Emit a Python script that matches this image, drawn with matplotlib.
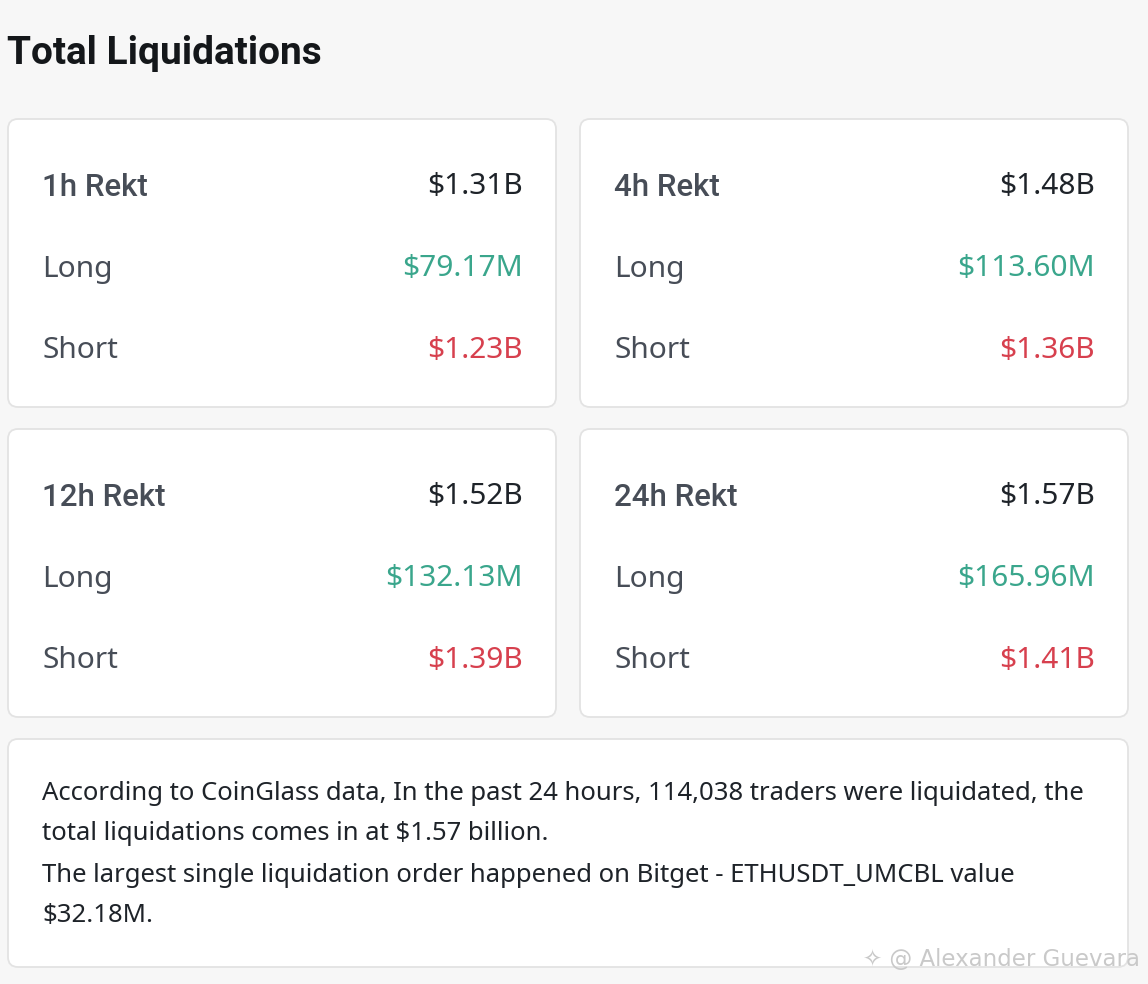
import matplotlib.pyplot as plt
from matplotlib.patches import FancyBboxPatch

periods = ['1h Rekt', '4h Rekt', '12h Rekt', '24h Rekt']
totals = ['$1.31B', '$1.48B', '$1.52B', '$1.57B']
longs = ['$79.17M', '$113.60M', '$132.13M', '$165.96M']
shorts = ['$1.23B', '$1.36B', '$1.39B', '$1.41B']
note_lines = [
    'According to CoinGlass data, In the past 24 hours, 114,038 traders were liquidated, the',
    'total liquidations comes in at $1.57 billion.',
    'The largest single liquidation order happened on Bitget - ETHUSDT_UMCBL value',
    '$32.18M.',
]

bg = '#f7f7f7'
green = '#3aa68c'
red = '#d7404e'
gray = '#474d57'
dark = '#1e2329'
font = 'Noto Sans'

fig = plt.figure(figsize=(11.48, 9.84), dpi=100)
fig.patch.set_facecolor(bg)
ax = fig.add_axes([0, 0, 1, 1])
ax.set_xlim(0, 1148)
ax.set_ylim(984, 0)
ax.axis('off')

def card(x0, y0, w, h):
    p = FancyBboxPatch((x0, y0), w, h, boxstyle='round,pad=0,rounding_size=10',
                       facecolor='white', edgecolor='#e3e3e3', linewidth=1.3)
    ax.add_patch(p)

ax.text(7, 54, 'Total Liquidations', fontsize=28, fontweight='bold',
        family='Roboto', color='#14171a', va='center', ha='left')

pos = [(8, 119), (580, 119), (8, 429), (580, 429)]
w, h = 548, 288
for i, (x0, y0) in enumerate(pos):
    card(x0, y0, w, h)
    lx, rx = x0 + 34, x0 + w - 33
    rows = [(periods[i], totals[i], dark), ('Long', longs[i], green), ('Short', shorts[i], red)]
    for j, (lab, val, col) in enumerate(rows):
        yy = y0 + 68 + j * 82
        if j == 0:
            ax.text(lx, yy, lab, fontsize=22.5, family='Roboto', color=gray, va='center',
                    ha='left', fontweight='medium')
        else:
            ax.text(lx, yy, lab, fontsize=21.5, family=font, color=gray, va='center', ha='left')
        ax.text(rx, yy, val, fontsize=21.5, family=font, color=col, va='center', ha='right')

card(8, 739, 1120, 228)
for k, line in enumerate(note_lines):
    ax.text(42, 793 + k * 41, line, fontsize=18.5, family=font, color=dark, va='center', ha='left')

ax.text(1140, 960, '\u2727 @ Alexander Guevara', fontsize=16.5, family='DejaVu Sans', color='#c9c9c9',
        va='center', ha='right')

fig.savefig('out.png', dpi=100, facecolor=bg)
